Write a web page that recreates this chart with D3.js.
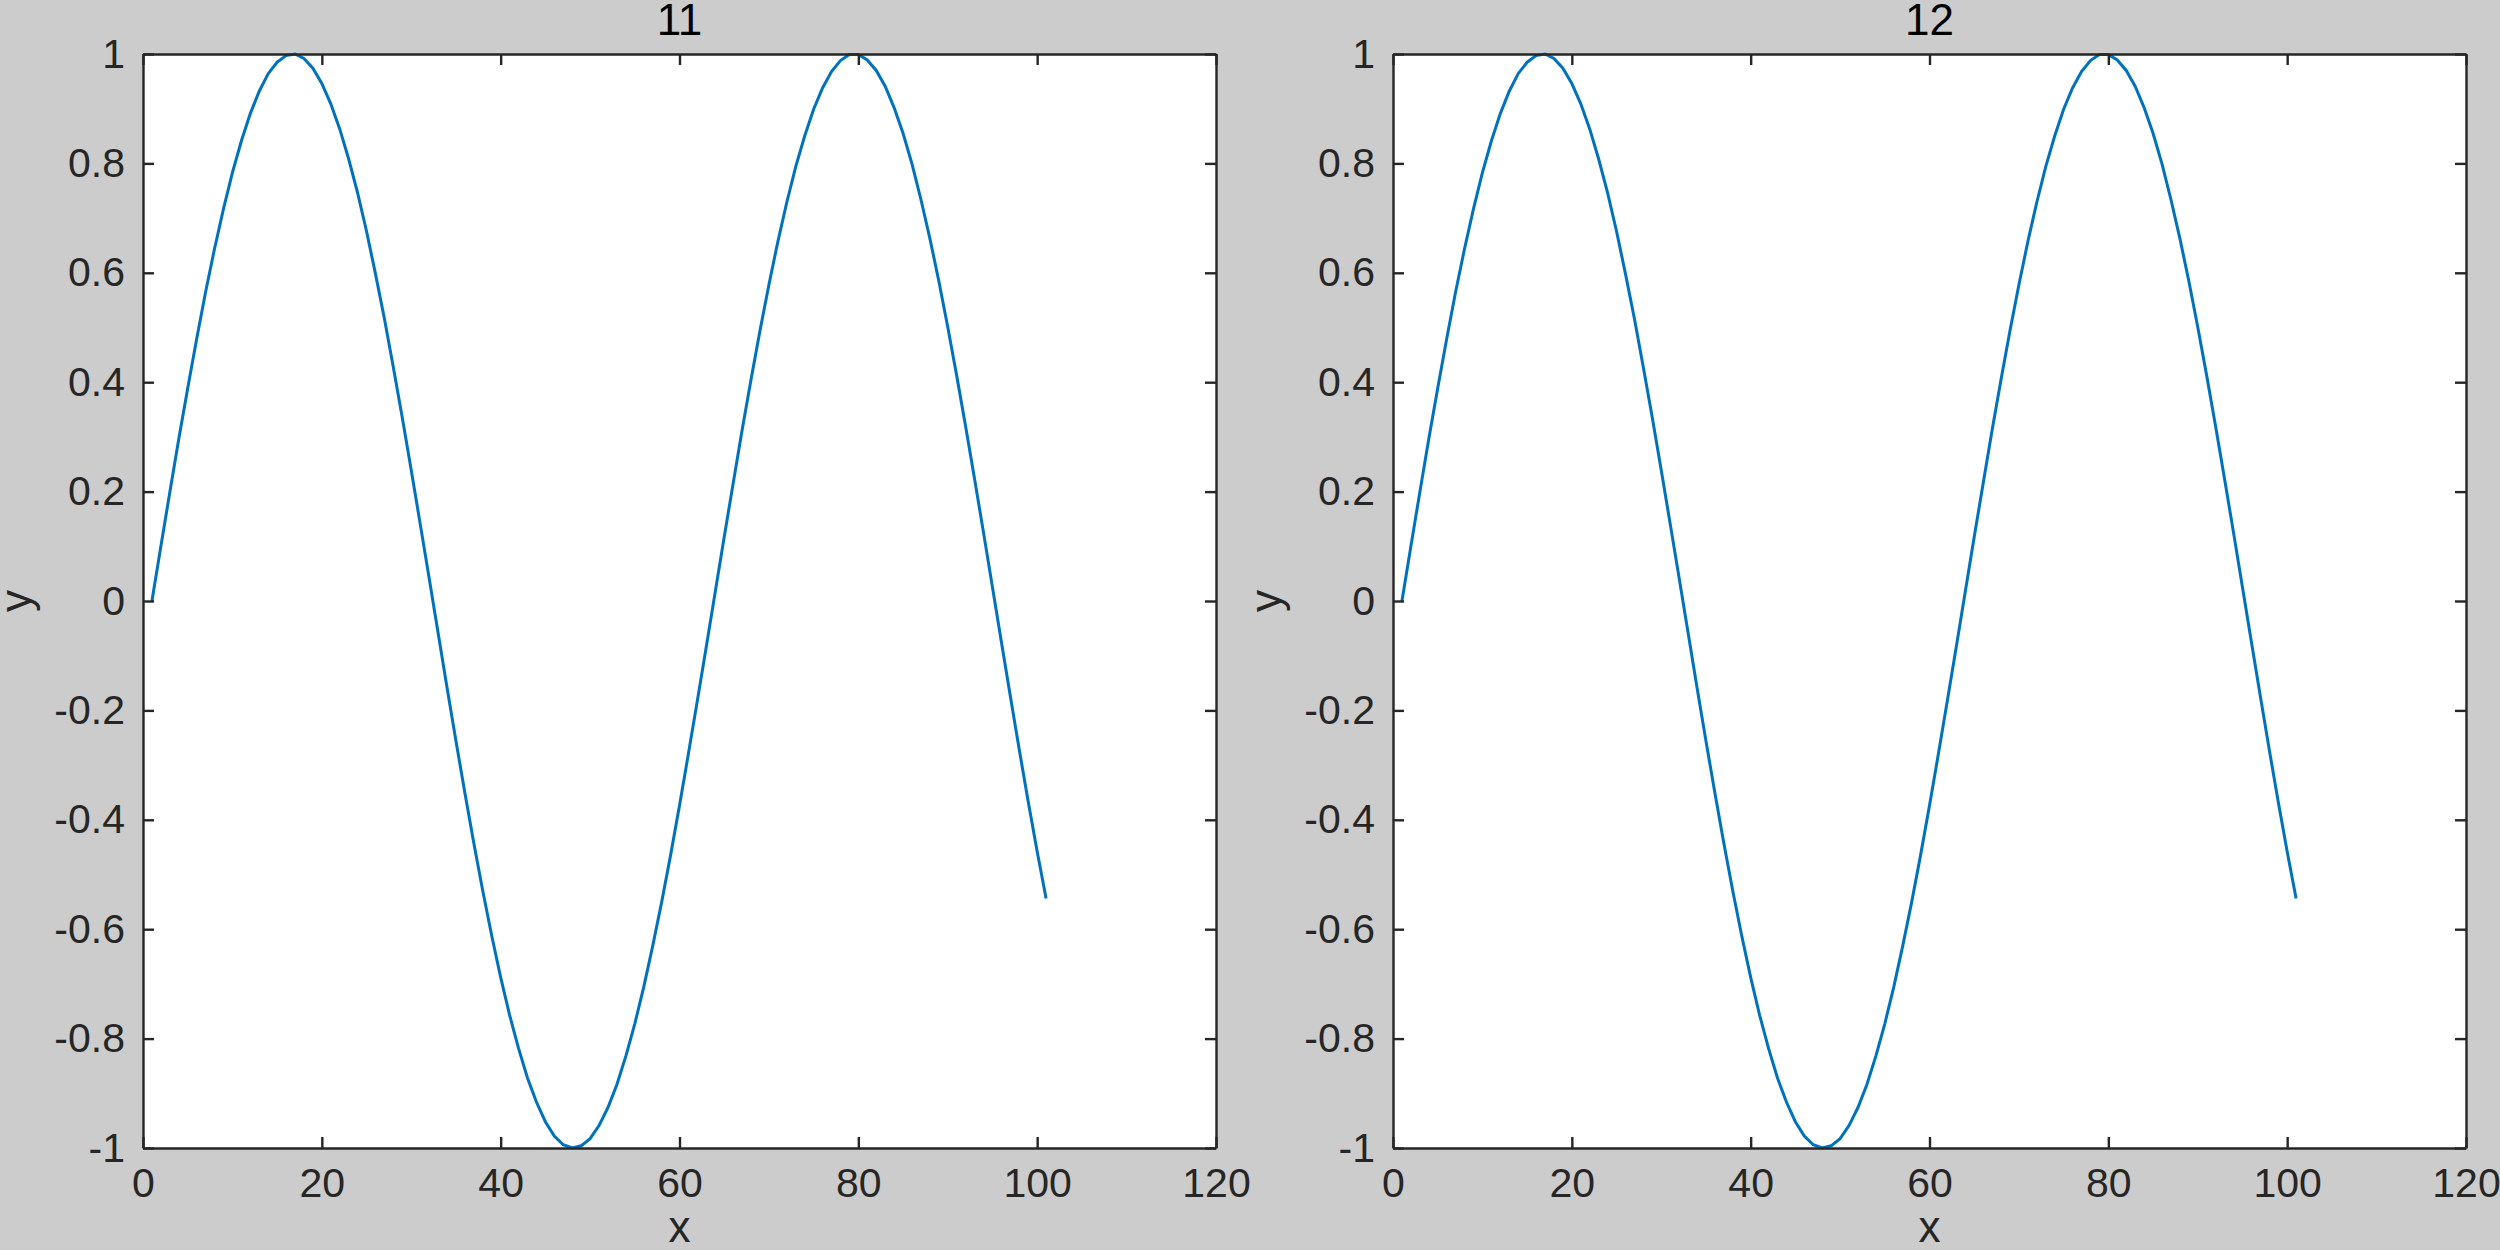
<!DOCTYPE html>
<html>
<head>
<meta charset="utf-8">
<script src="https://cdn.jsdelivr.net/npm/d3@7"></script>
<style>
  body { margin: 0; background: #cccccc; }
  svg { display: block; font-family: "Liberation Sans", Arial, sans-serif; }
</style>
</head>
<body>
<div id="chart"></div>
<script>
// panel titles
var titles = ["11", "12"];
// y values, one per sample (x = 1..101)
var yValues = [
  0.000, 0.100, 0.199, 0.296, 0.389, 0.479, 0.565, 0.644, 0.717, 0.783,
  0.841, 0.891, 0.932, 0.964, 0.985, 0.997, 1.000, 0.992, 0.974, 0.946,
  0.909, 0.863, 0.808, 0.746, 0.676, 0.598, 0.516, 0.427, 0.335, 0.239,
  0.141, 0.042, -0.058, -0.158, -0.256, -0.351, -0.443, -0.530, -0.612, -0.688,
  -0.757, -0.818, -0.872, -0.916, -0.952, -0.978, -0.994, -1.000, -0.996, -0.983,
  -0.959, -0.926, -0.884, -0.832, -0.773, -0.706, -0.631, -0.551, -0.465, -0.374,
  -0.279, -0.182, -0.083, 0.017, 0.117, 0.215, 0.312, 0.405, 0.494, 0.578,
  0.657, 0.729, 0.794, 0.850, 0.899, 0.938, 0.968, 0.988, 0.999, 0.999,
  0.989, 0.970, 0.941, 0.902, 0.855, 0.799, 0.734, 0.663, 0.585, 0.501,
  0.412, 0.319, 0.223, 0.125, 0.025, -0.075, -0.174, -0.272, -0.367, -0.458,
  -0.544
];
var xTicks = [0, 20, 40, 60, 80, 100, 120];
var yTicks = [-1, -0.8, -0.6, -0.4, -0.2, 0, 0.2, 0.4, 0.6, 0.8, 1];

var W = 2500, H = 1250;
var panels = [
  {left: 143, right: 1216},
  {left: 1393, right: 2466}
];
var plotTop = 54, plotBottom = 1148;
var axisColor = "#262626";
var tickLen = 11;

var svg = d3.select("#chart").append("svg")
    .attr("width", W)
    .attr("height", H);

svg.append("rect").attr("width", W).attr("height", H).attr("fill", "#cccccc");

panels.forEach(function(p, pi) {
  var x = d3.scaleLinear().domain([0, 120]).range([p.left, p.right]);
  var y = d3.scaleLinear().domain([-1, 1]).range([plotBottom, plotTop]);
  var g = svg.append("g");

  g.append("rect")
    .attr("x", p.left).attr("y", plotTop)
    .attr("width", p.right - p.left).attr("height", plotBottom - plotTop)
    .attr("fill", "#ffffff");

  // data line
  var line = d3.line()
    .x(function(d, i) { return x(i + 1); })
    .y(function(d) { return y(d); });
  g.append("path")
    .datum(yValues)
    .attr("d", line)
    .attr("fill", "none")
    .attr("stroke", "#0072bd")
    .attr("stroke-width", 3);

  // axes with inward ticks, mirrored on all sides
  function styleAxis(sel) {
    sel.selectAll(".domain").attr("stroke", axisColor).attr("stroke-width", 2.4);
    sel.selectAll(".tick line").attr("stroke", axisColor).attr("stroke-width", 2.4);
    sel.selectAll(".tick text")
      .attr("fill", "#262626")
      .style("font-size", "41px");
  }

  var xb = g.append("g").attr("transform", "translate(0," + plotBottom + ")")
    .call(d3.axisBottom(x).tickValues(xTicks).tickSize(-tickLen).tickSizeOuter(0).tickPadding(20).tickFormat(d3.format("d")));
  styleAxis(xb);

  var xt = g.append("g").attr("transform", "translate(0," + plotTop + ")")
    .call(d3.axisTop(x).tickValues(xTicks).tickSize(-tickLen).tickSizeOuter(0).tickFormat(""));
  styleAxis(xt);

  var yl = g.append("g").attr("transform", "translate(" + p.left + ",0)")
    .call(d3.axisLeft(y).tickValues(yTicks).tickSize(-tickLen).tickSizeOuter(0).tickPadding(18)
      .tickFormat(function(d) { return String(+d.toFixed(1)); }));
  styleAxis(yl);

  var yr = g.append("g").attr("transform", "translate(" + p.right + ",0)")
    .call(d3.axisRight(y).tickValues(yTicks).tickSize(-tickLen).tickSizeOuter(0).tickFormat(""));
  styleAxis(yr);

  g.append("text")
    .attr("x", (p.left + p.right) / 2)
    .attr("y", 35)
    .attr("text-anchor", "middle")
    .attr("fill", "#000")
    .style("font-size", "44px")
    .text(titles[pi]);

  g.append("text")
    .attr("x", (p.left + p.right) / 2)
    .attr("y", 1242)
    .attr("text-anchor", "middle")
    .attr("fill", "#262626")
    .style("font-size", "44px")
    .text("x");

  g.append("text")
    .attr("transform", "translate(" + (p.left - 112) + "," + ((plotTop + plotBottom) / 2) + ") rotate(-90)")
    .attr("text-anchor", "middle")
    .attr("fill", "#262626")
    .style("font-size", "44px")
    .text("y");
});
</script>
</body>
</html>
